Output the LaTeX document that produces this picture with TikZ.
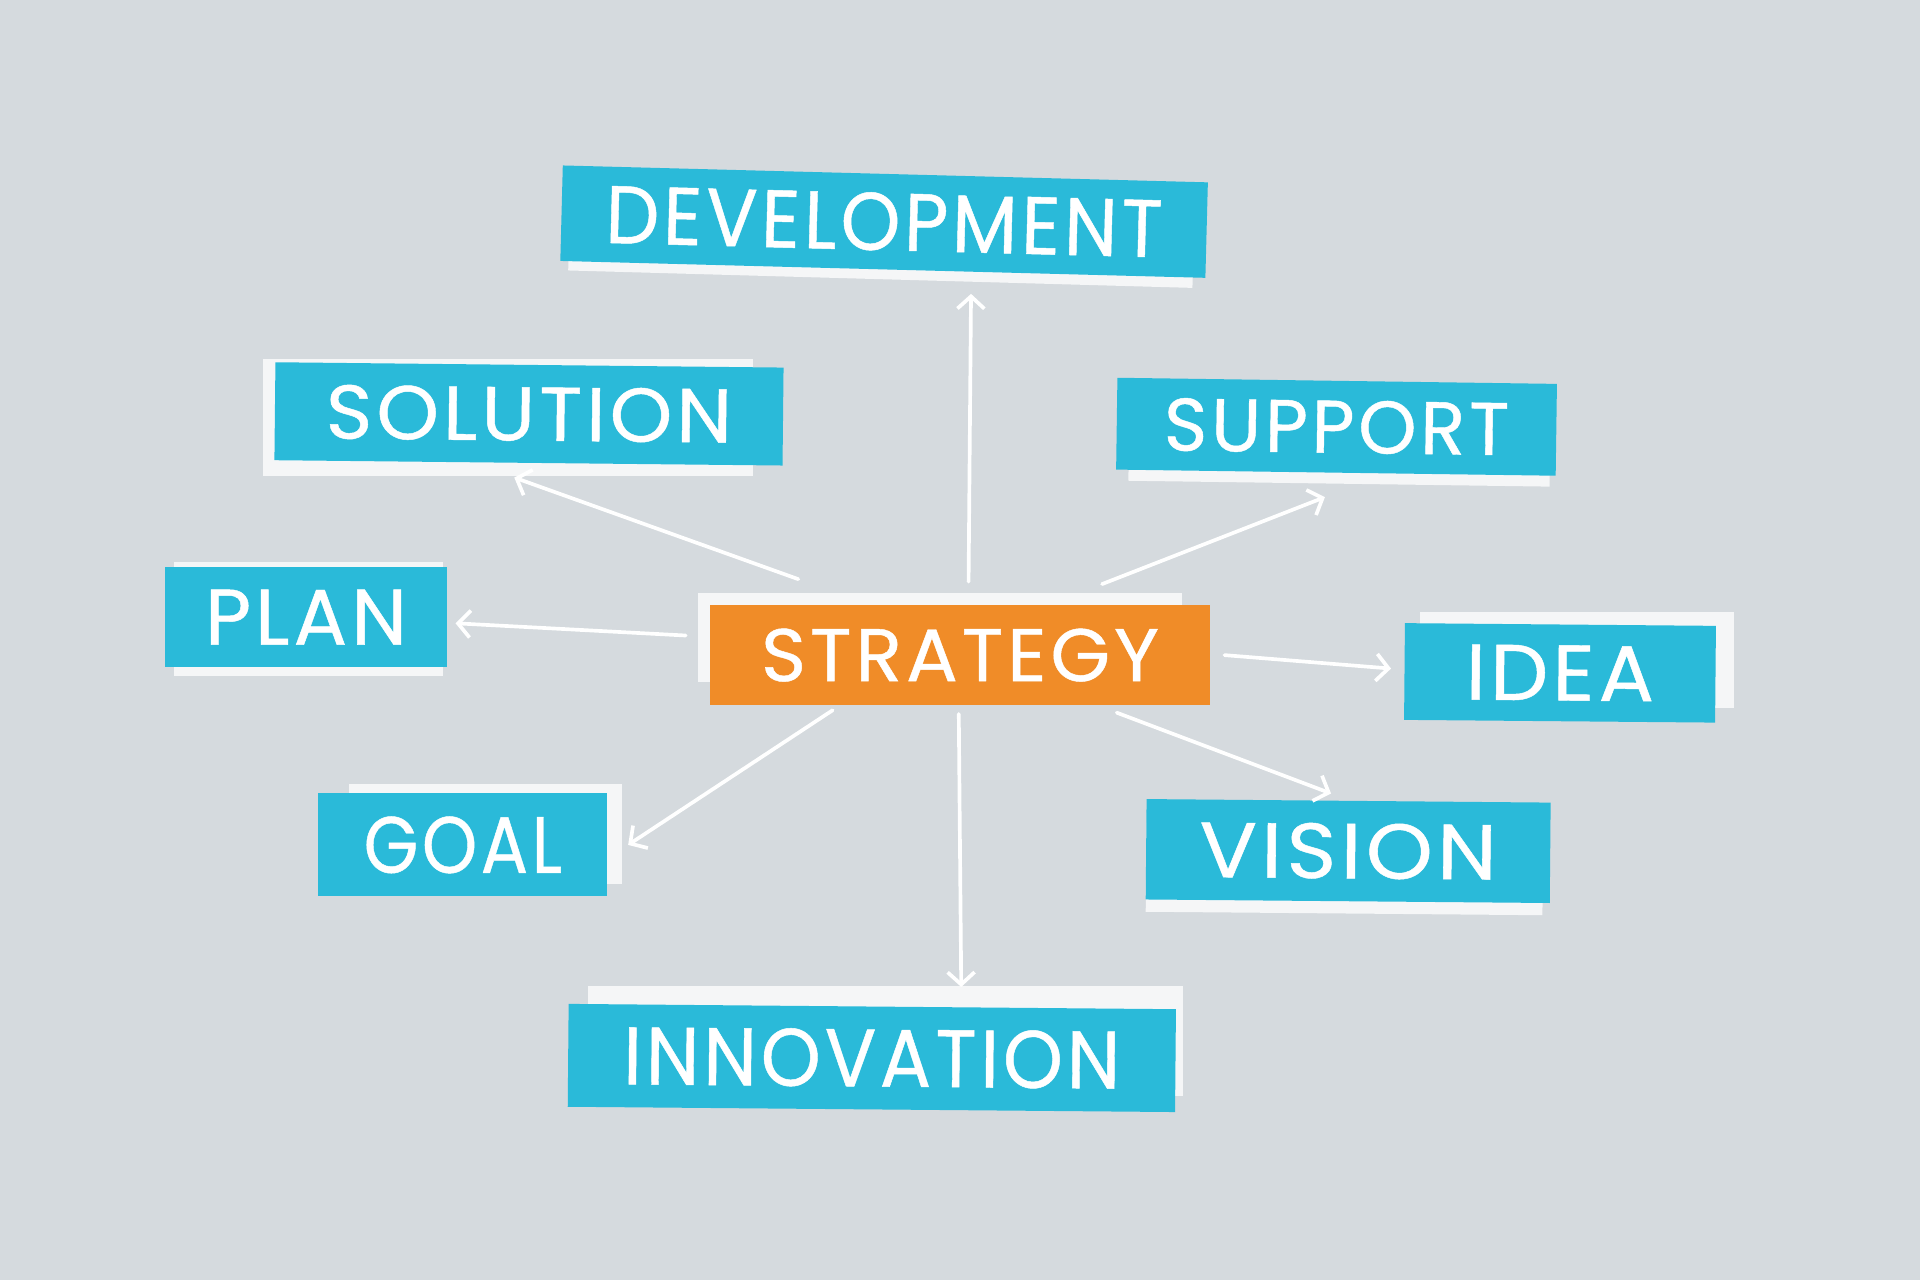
\documentclass[tikz,border=0pt]{standalone}
\usepackage{fontspec}
\setmainfont{Poppins}[LetterSpace=5,FakeBold=0.6]
\usetikzlibrary{arrows.meta}
\definecolor{bg}{RGB}{213,218,222}
\definecolor{cardblue}{RGB}{42,186,217}
\definecolor{cardorange}{RGB}{240,140,40}
\definecolor{paper}{RGB}{245,246,247}
\newcommand\lbl[3]{\resizebox{#1pt}{#2pt}{#3}}
\begin{document}
\begin{tikzpicture}[x=1pt,y=-1pt,
  paperbox/.style={fill=paper,draw=none,inner sep=0pt},
  card/.style={fill=cardblue,draw=none,inner sep=0pt,text=white,
    font=\fontsize{64}{64}\selectfont},
  maincard/.style={card,fill=cardorange},
  conn/.style={draw=white,line width=3pt,line cap=round,
    -{Straight Barb[length=10pt,width=22pt,line width=3pt]}}]
\fill[bg] (0,0) rectangle (1568,1045);
\useasboundingbox (0,0) rectangle (1568,1045);

% white papers behind the cards
\node[paperbox,minimum width=510pt,minimum height=78pt,rotate=-1.6] (devp) at (720,189) {};
\node[paperbox,minimum width=400pt,minimum height=96pt] (solp) at (415,341) {};
\node[paperbox,minimum width=344pt,minimum height=75pt,rotate=-0.8] (supp) at (1094,357.5) {};
\node[paperbox,minimum width=220pt,minimum height=93pt] (planp) at (252,505.5) {};
\node[paperbox,minimum width=395pt,minimum height=73pt] (strp) at (767.5,520.5) {};
\node[paperbox,minimum width=256pt,minimum height=78pt] (ideap) at (1288,539) {};
\node[paperbox,minimum width=223pt,minimum height=82pt] (goalp) at (396.5,681) {};
\node[paperbox,minimum width=324pt,minimum height=81pt,rotate=-0.5] (visp) at (1098,705.5) {};
\node[paperbox,minimum width=486pt,minimum height=90pt] (innp) at (723,850) {};

% cards
\node[card,minimum width=527pt,minimum height=78pt,rotate=-1.5] (dev) at (722,181) {\lbl{455}{47}{DEVELOPMENT}};
\node[card,minimum width=415pt,minimum height=80pt,rotate=-0.6] (sol) at (432,338) {\lbl{332}{44}{SOLUTION}};
\node[card,minimum width=359pt,minimum height=75pt,rotate=-0.8] (sup) at (1091.5,348.5) {\lbl{282}{43}{SUPPORT}};
\node[card,minimum width=230pt,minimum height=82pt] (plan) at (250,504) {\lbl{165}{45}{PLAN}};
\node[maincard,minimum width=408pt,minimum height=82pt] (str) at (784,535) {\lbl{325}{43}{STRATEGY}};
\node[card,minimum width=254pt,minimum height=79pt,rotate=-0.5] (idea) at (1274,549.5) {\lbl{154}{45}{IDEA}};
\node[card,minimum width=236pt,minimum height=84pt] (goal) at (378,690) {\lbl{162}{46}{GOAL}};
\node[card,minimum width=330pt,minimum height=82pt,rotate=-0.5] (vis) at (1101,695) {\lbl{243}{45}{VISION}};
\node[card,minimum width=496pt,minimum height=84pt,rotate=-0.5] (inn) at (712,864) {\lbl{406}{47}{INNOVATION}};

% connector end points
\coordinate (s-dev) at (791,475);  \coordinate (e-dev) at (793,240);
\coordinate (s-sol) at (652,473);  \coordinate (e-sol) at (420,390);
\coordinate (s-sup) at (900,477);  \coordinate (e-sup) at (1082,406);
\coordinate (s-plan) at (560,519); \coordinate (e-plan) at (372,509);
\coordinate (s-idea) at (1000,535); \coordinate (e-idea) at (1136,546);
\coordinate (s-goal) at (680,580); \coordinate (e-goal) at (513,690);
\coordinate (s-vis) at (912,582);  \coordinate (e-vis) at (1087,648);
\coordinate (s-inn) at (783,583);  \coordinate (e-inn) at (785,806);

\draw[conn] (s-dev) -- (e-dev);
\draw[conn] (s-sol) -- (e-sol);
\draw[conn] (s-sup) -- (e-sup);
\draw[conn] (s-plan) -- (e-plan);
\draw[conn] (s-idea) -- (e-idea);
\draw[conn] (s-goal) -- (e-goal);
\draw[conn] (s-vis) -- (e-vis);
\draw[conn] (s-inn) -- (e-inn);
\end{tikzpicture}
\end{document}
